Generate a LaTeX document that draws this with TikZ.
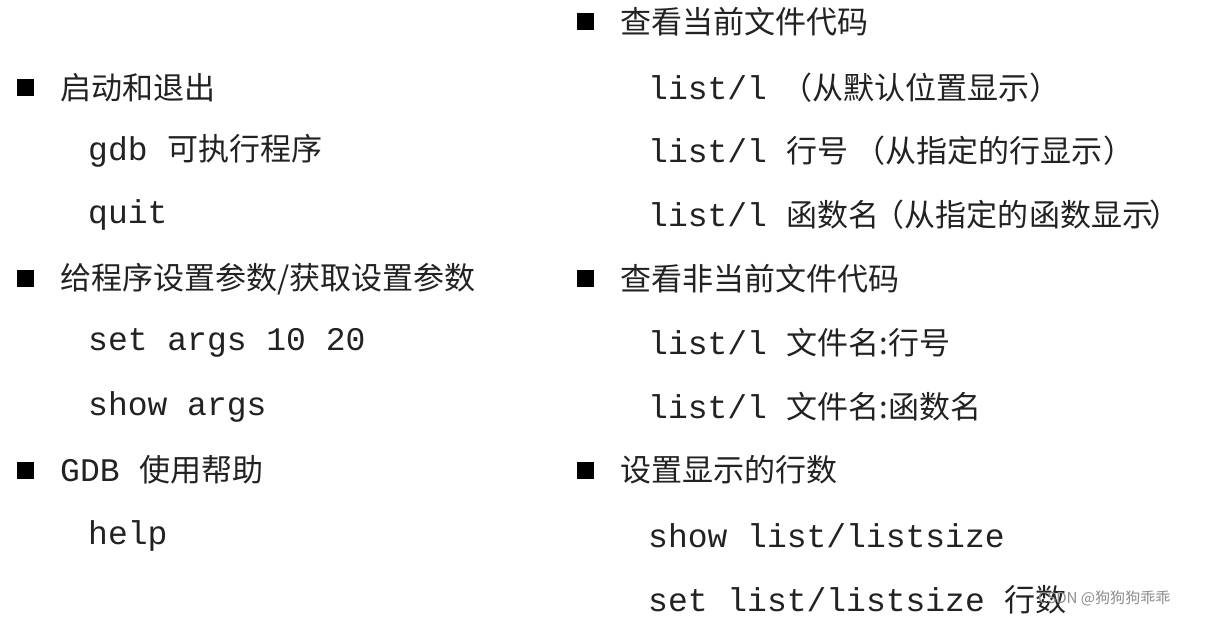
\documentclass[tikz,border=0pt]{standalone}
\usepackage{fontspec}
\setmainfont{Noto Sans CJK SC}
\newfontfamily\cn{Noto Sans CJK SC}[Scale=0.94]
\newfontfamily\mono{Liberation Mono}
\definecolor{ink}{HTML}{222222}
\begin{document}
\begin{tikzpicture}[x=1pt,y=-1pt,
  t/.style={anchor=west,inner sep=0pt,text=ink,font=\fontsize{33}{36}\selectfont},
  bul/.style={fill=black,minimum size=17pt,inner sep=0pt}]
\useasboundingbox (0,0) rectangle (1207,617);
\fill[white] (0,0) rectangle (1207,617);
% left column
\node[bul] (b1) at (25,88) {};
\node[t] (l1) at (60,88) {\cn 启动和退出};
\node[t] (l2) at (88,151) {\mono gdb \cn 可执行程序};
\node[t] (l3) at (88,215) {\mono quit};
\node[bul] (b2) at (25,279) {};
\node[t] (l4) at (60,279) {\cn 给程序设置参数/获取设置参数};
\node[t] (l5) at (88,343) {\mono set args 10 20};
\node[t] (l6) at (88,407) {\mono show args};
\node[bul] (b3) at (25,470) {};
\node[t] (l7) at (60,470) {\mono GDB \cn 使用帮助};
\node[t] (l8) at (88,536) {\mono help};
% right column
\node[bul] (b4) at (585,22) {};
\node[t] (r1) at (620,22) {\cn 查看当前文件代码};
\node[t] (r2) at (648,88) {\mono list/l\hspace{14pt}\cn （从默认位置显示）};
\node[t] (r3) at (648,151) {\mono list/l \cn 行号\hspace{6pt}（从指定的行显示）};
\node[t] (r4) at (648,215) {\mono list/l \cn 函数名\hspace{-6pt}（从指定的函数显示\hspace{-4pt}）};
\node[bul] (b5) at (585,279) {};
\node[t] (r5) at (620,279) {\cn 查看非当前文件代码};
\node[t] (r6) at (648,343) {\mono list/l \cn 文件名:行号};
\node[t] (r7) at (648,407) {\mono list/l \cn 文件名:函数名};
\node[bul] (b6) at (585,470) {};
\node[t] (r8) at (620,470) {\cn 设置显示的行数};
\node[t] (r9) at (648,536) {\mono show list/listsize};
\node[t] (r10) at (648,600) {\mono set list/listsize \cn 行数};
\node[anchor=west,inner sep=0pt,text=black!45,font=\fontsize{16}{18}\selectfont] (wm) at (1038,598) {\cn CSDN @狗狗狗乖乖};
\end{tikzpicture}
\end{document}
